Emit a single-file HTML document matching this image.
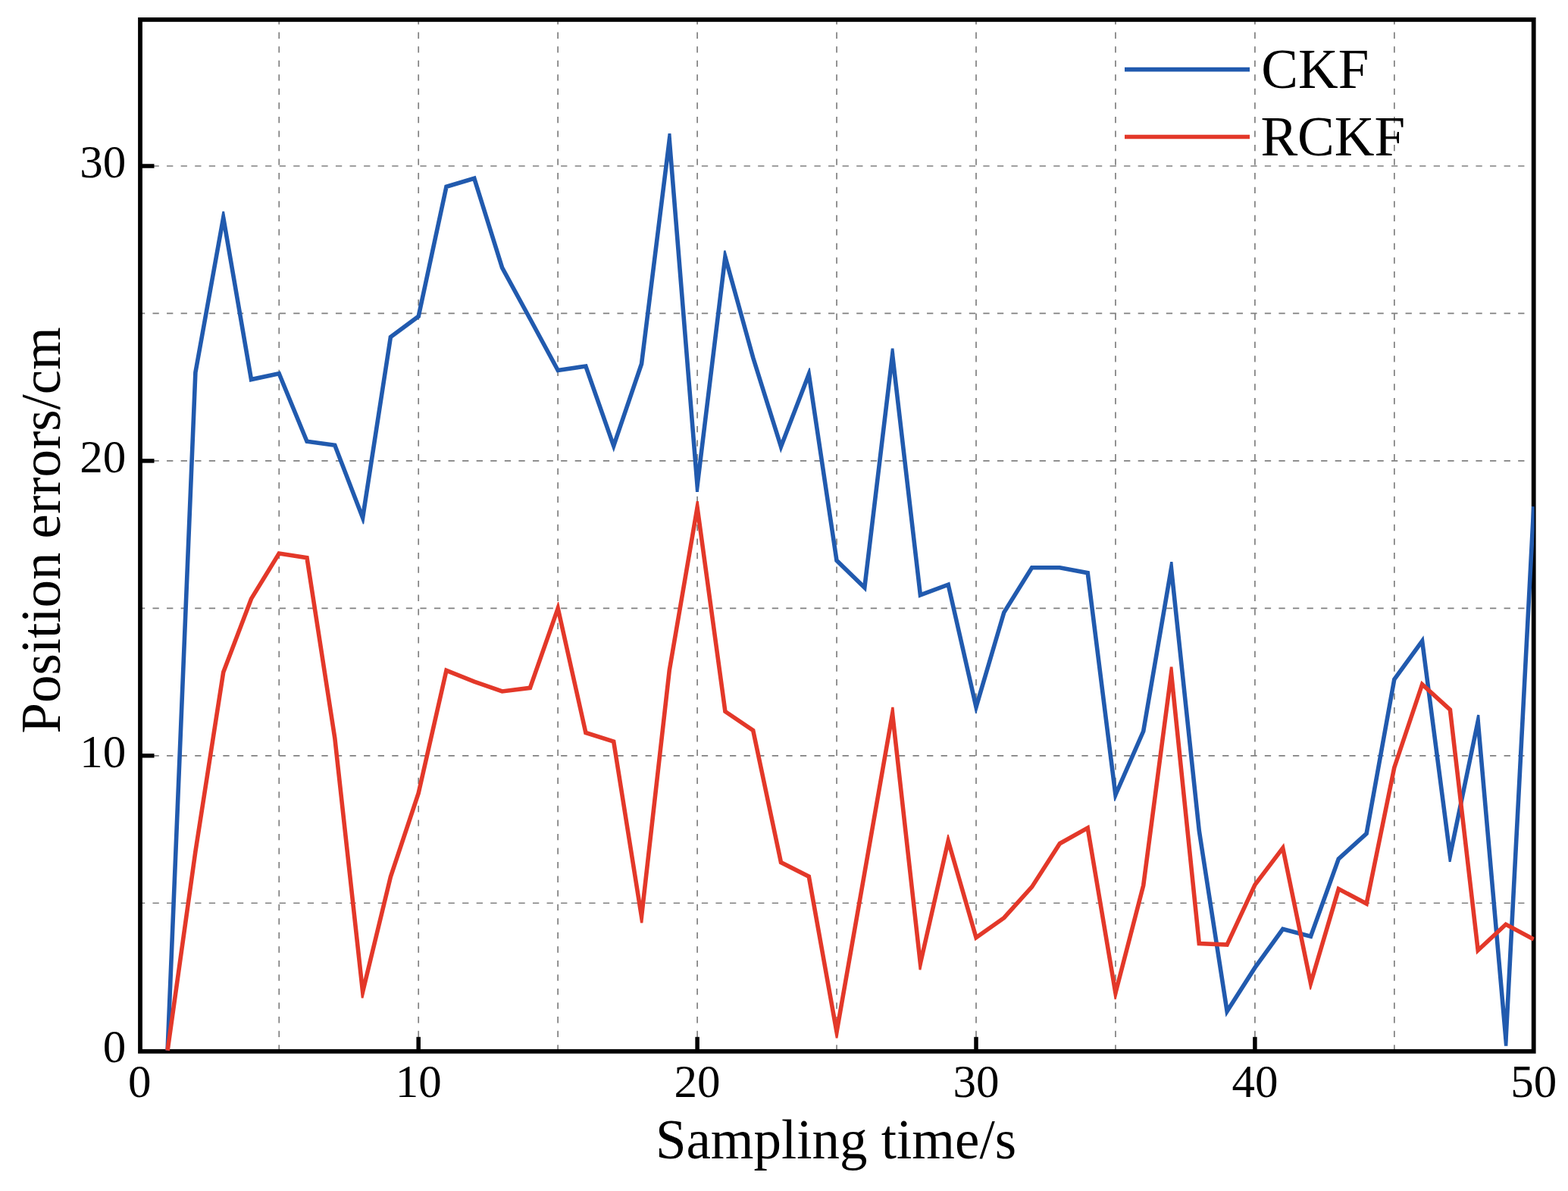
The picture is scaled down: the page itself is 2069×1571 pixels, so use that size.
<!DOCTYPE html>
<html><head><meta charset="utf-8"><title>Position errors</title>
<style>
html,body{margin:0;padding:0;background:#fff;}
body{width:2069px;height:1571px;overflow:hidden;}
svg{display:block;}
.g{stroke:#808080;stroke-width:1.7;stroke-dasharray:8.3 10.274;fill:none;}
.gv{stroke-dasharray:8.3 10.25;}
.tk{stroke:#000;stroke-width:5.5;}
.ax{stroke:#000;stroke-width:5.8;fill:none;}
.ln{fill:none;stroke-width:5.6;stroke-linejoin:miter;stroke-miterlimit:3;stroke-linecap:butt;}
text{font-family:"Liberation Serif","Times New Roman",serif;fill:#000;}
.tl{font-size:61px;}
.tt{font-size:76px;}
</style></head>
<body>
<svg width="2069" height="1571" viewBox="0 0 2069 1571">
<rect x="0" y="0" width="2069" height="1571" fill="#fff"/>
<g id="grid">
<line x1="368.25" y1="24.05" x2="368.25" y2="1386.8" class="g gv"/>
<line x1="552.20" y1="24.05" x2="552.20" y2="1386.8" class="g gv"/>
<line x1="736.15" y1="24.05" x2="736.15" y2="1386.8" class="g gv"/>
<line x1="920.10" y1="24.05" x2="920.10" y2="1386.8" class="g gv"/>
<line x1="1104.05" y1="24.05" x2="1104.05" y2="1386.8" class="g gv"/>
<line x1="1288.00" y1="24.05" x2="1288.00" y2="1386.8" class="g gv"/>
<line x1="1471.95" y1="24.05" x2="1471.95" y2="1386.8" class="g gv"/>
<line x1="1655.90" y1="24.05" x2="1655.90" y2="1386.8" class="g gv"/>
<line x1="1839.85" y1="24.05" x2="1839.85" y2="1386.8" class="g gv"/>
<line x1="182.9" y1="1191.25" x2="2023.7" y2="1191.25" class="g"/>
<line x1="182.9" y1="996.80" x2="2023.7" y2="996.80" class="g"/>
<line x1="182.9" y1="802.35" x2="2023.7" y2="802.35" class="g"/>
<line x1="182.9" y1="607.90" x2="2023.7" y2="607.90" class="g"/>
<line x1="182.9" y1="413.45" x2="2023.7" y2="413.45" class="g"/>
<line x1="182.9" y1="219.00" x2="2023.7" y2="219.00" class="g"/>
</g>
<g id="ticks">
<line x1="552.2" y1="1386.8" x2="552.2" y2="1367.8" class="tk"/>
<line x1="920.1" y1="1386.8" x2="920.1" y2="1367.8" class="tk"/>
<line x1="1288.0" y1="1386.8" x2="1288.0" y2="1367.8" class="tk"/>
<line x1="1655.9" y1="1386.8" x2="1655.9" y2="1367.8" class="tk"/>
<line x1="185.0" y1="996.8" x2="203.5" y2="996.8" class="tk"/>
<line x1="185.0" y1="607.9" x2="203.5" y2="607.9" class="tk"/>
<line x1="185.0" y1="219.0" x2="203.5" y2="219.0" class="tk"/>
</g>
<rect x="185.0" y="25.9" width="1838.7" height="1360.9" class="ax"/>
<defs><clipPath id="pc"><rect x="0" y="0" width="2024.6" height="1571"/></clipPath></defs>
<g clip-path="url(#pc)">
<polyline class="ln" stroke="#215AAE" points="221.1,1385.7 257.9,491.2 294.7,287.1 331.5,500.6 368.2,492.8 405.0,582.2 441.8,587.3 478.6,683.0 515.4,444.6 552.2,417.3 589.0,246.2 625.8,235.3 662.6,353.2 699.4,420.5 736.2,488.5 772.9,483.1 809.7,588.1 846.5,480.0 883.3,184.4 920.1,640.6 956.9,338.8 993.7,471.8 1030.5,589.2 1067.3,493.6 1104.0,739.3 1140.8,775.1 1177.6,467.9 1214.4,784.8 1251.2,771.2 1288.0,932.6 1324.8,807.8 1361.6,748.7 1398.4,748.7 1435.2,755.7 1471.9,1048.5 1508.7,964.5 1545.5,749.5 1582.3,1096.0 1619.1,1334.0 1655.9,1276.4 1692.7,1225.5 1729.5,1235.2 1766.3,1132.9 1803.1,1099.5 1839.8,896.1 1876.6,845.5 1913.4,1128.6 1950.2,951.3 1987.0,1371.3 2023.8,668.2"/>
<polygon fill="#215AAE" points="294.66,289.58 291.91,286.56 293.34,278.65 296.06,278.66 297.43,286.58"/>
<polygon fill="#215AAE" points="478.35,680.45 476.01,683.96 478.86,691.38 480.18,691.24 481.39,683.38"/>
<polygon fill="#215AAE" points="809.72,585.55 807.09,588.99 809.71,596.47 809.83,596.47 812.38,588.97"/>
<polygon fill="#215AAE" points="883.26,186.91 880.53,184.04 881.54,175.95 885.45,176.03 886.10,184.16"/>
<polygon fill="#215AAE" points="920.15,638.05 917.31,640.79 917.96,648.93 921.89,649.01 922.88,640.91"/>
<polygon fill="#215AAE" points="957.08,341.29 954.11,338.44 955.08,330.49 957.45,330.32 959.59,338.03"/>
<polygon fill="#215AAE" points="1030.55,586.71 1027.80,590.07 1030.17,597.63 1030.24,597.63 1033.08,590.24"/>
<polygon fill="#215AAE" points="1066.99,496.07 1064.65,492.56 1067.50,485.14 1068.85,485.29 1070.03,493.15"/>
<polygon fill="#215AAE" points="1177.63,470.42 1174.85,467.56 1175.82,459.49 1179.47,459.50 1180.41,467.57"/>
<polygon fill="#215AAE" points="1288.08,930.11 1285.27,933.25 1287.04,941.01 1288.44,941.05 1290.69,933.42"/>
<polygon fill="#215AAE" points="1472.31,1046.03 1469.17,1048.87 1470.16,1056.75 1471.33,1056.92 1474.51,1049.65"/>
<polygon fill="#215AAE" points="1545.45,751.98 1542.77,748.99 1544.13,741.01 1547.46,741.12 1548.31,749.16"/>
<polygon fill="#215AAE" points="1913.52,1126.12 1910.65,1129.00 1911.69,1136.98 1914.54,1137.08 1916.17,1129.21"/>
<polygon fill="#215AAE" points="1950.07,953.81 1947.48,950.73 1949.12,942.82 1952.30,943.01 1953.01,951.05"/>
<polygon fill="#215AAE" points="1986.97,1368.79 1984.22,1371.56 1984.94,1379.75 1989.38,1379.67 1989.81,1371.46"/>
<polyline class="ln" stroke="#E33829" points="221.1,1385.7 257.9,1123.2 294.7,886.7 331.5,789.9 368.2,730.0 405.0,735.8 441.8,973.5 478.6,1308.3 515.4,1156.6 552.2,1046.2 589.0,884.4 625.8,899.2 662.6,912.0 699.4,907.4 736.2,802.4 772.9,966.5 809.7,978.1 846.5,1209.1 883.3,884.0 920.1,669.3 956.9,938.5 993.7,963.4 1030.5,1137.6 1067.3,1156.2 1104.0,1361.2 1140.8,1151.6 1177.6,941.2 1214.4,1271.0 1251.2,1109.2 1288.0,1236.8 1324.8,1210.7 1361.6,1169.9 1398.4,1112.7 1435.2,1092.1 1471.9,1309.9 1508.7,1167.9 1545.5,887.9 1582.3,1244.5 1619.1,1246.1 1655.9,1167.1 1692.7,1118.5 1729.5,1297.0 1766.3,1172.6 1803.1,1192.0 1839.8,1012.4 1876.6,902.7 1913.4,936.1 1950.2,1253.5 1987.0,1219.3 2023.8,1239.1"/>
<polygon fill="#E33829" points="478.78,1305.79 475.84,1308.61 476.71,1316.60 479.45,1316.78 481.34,1308.97"/>
<polygon fill="#E33829" points="736.00,804.87 733.51,801.42 736.13,793.93 737.15,793.99 738.88,801.74"/>
<polygon fill="#E33829" points="846.46,1206.62 843.75,1209.58 845.03,1217.58 848.39,1217.50 849.30,1209.45"/>
<polygon fill="#E33829" points="920.06,671.87 917.34,668.87 918.70,660.92 921.78,660.97 922.87,668.97"/>
<polygon fill="#E33829" points="1104.05,1358.68 1101.29,1361.69 1102.71,1369.60 1105.42,1369.60 1106.81,1361.68"/>
<polygon fill="#E33829" points="1177.55,943.71 1174.87,940.71 1176.26,932.74 1179.52,932.84 1180.41,940.88"/>
<polygon fill="#E33829" points="1214.56,1268.46 1211.64,1271.28 1212.53,1279.28 1215.37,1279.44 1217.15,1271.60"/>
<polygon fill="#E33829" points="1251.28,1111.71 1248.48,1108.57 1250.24,1100.82 1251.70,1100.77 1253.90,1108.42"/>
<polygon fill="#E33829" points="1472.06,1307.35 1469.19,1310.33 1470.52,1318.21 1472.66,1318.30 1474.66,1310.57"/>
<polygon fill="#E33829" points="1545.49,890.43 1542.75,887.54 1543.81,879.48 1547.48,879.53 1548.32,887.62"/>
<polygon fill="#E33829" points="1729.59,1294.51 1726.74,1297.60 1728.34,1305.39 1729.91,1305.46 1732.17,1297.82"/>
</g>
<g id="legend">
<line x1="1484" y1="91.6" x2="1649" y2="91.6" stroke="#215AAE" stroke-width="5.6"/>
<line x1="1484" y1="180.5" x2="1649" y2="180.5" stroke="#E33829" stroke-width="5.6"/>
<text transform="translate(1664.3,115.5) scale(0.96,0.984)" class="tt">CKF</text>
<text transform="translate(1663.4,204.5) scale(0.961,0.986)" class="tt">RCKF</text>
</g>
<g id="labels">
<text x="184.3" y="1447" class="tl" text-anchor="middle">0</text>
<text x="552.2" y="1447" class="tl" text-anchor="middle">10</text>
<text x="920.1" y="1447" class="tl" text-anchor="middle">20</text>
<text x="1288.0" y="1447" class="tl" text-anchor="middle">30</text>
<text x="1655.9" y="1447" class="tl" text-anchor="middle">40</text>
<text x="2023.8" y="1447" class="tl" text-anchor="middle">50</text>
<text x="166.3" y="1400.8" class="tl" text-anchor="end">0</text>
<text x="166.3" y="1011.9" class="tl" text-anchor="end">10</text>
<text x="166.3" y="623.0" class="tl" text-anchor="end">20</text>
<text x="166.3" y="234.1" class="tl" text-anchor="end">30</text>
</g>
<text transform="translate(1103,1528.3) scale(0.96,0.975)" class="tt" text-anchor="middle">Sampling time/s</text>
<text transform="translate(78.8,699.4) rotate(-90) scale(0.959,0.98)" class="tt" text-anchor="middle">Position errors/cm</text>
</svg>
</body></html>
